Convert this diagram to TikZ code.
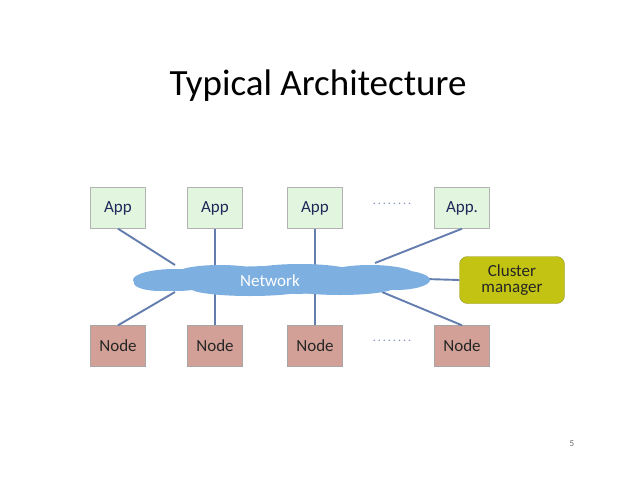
\documentclass[tikz,border=0pt]{standalone}
\usepackage{fontspec}
\setmainfont{Carlito}
\begin{document}
\begin{tikzpicture}[x=1pt,y=-1pt,
 app/.style={draw=black!30,fill={rgb,255:red,226;green,245;blue,222},minimum width=55pt,minimum height=41pt,inner sep=0pt,font=\fontsize{17}{19}\selectfont,text={rgb,255:red,30;green,40;blue,90}},
 nd/.style={draw=black!35,fill={rgb,255:red,210;green,160;blue,150},minimum width=55pt,minimum height=41pt,inner sep=0pt,font=\fontsize{17}{19}\selectfont,text=black!85},
 ln/.style={draw={rgb,255:red,100;green,125;blue,175},line width=1.9pt},
 dots/.style={font=\fontsize{12}{12}\selectfont,text={rgb,255:red,120;green,140;blue,180}},
 puff/.style={fill={rgb,255:red,125;green,175;blue,225}}]
\useasboundingbox (0,0) rectangle (638,493);
\fill[white] (0,0) rectangle (638,493);
\node[font=\fontsize{37}{40}\selectfont] (title) at (318,86) {Typical Architecture};
\node[app] (a1) at (118,208) {App};
\node[app] (a2) at (215,208) {App};
\node[app] (a3) at (315,208) {App};
\node[app] (a4) at (462,208) {App.};
\node[nd] (n1) at (118,346) {Node};
\node[nd] (n2) at (215,346) {Node};
\node[nd] (n3) at (315,346) {Node};
\node[nd] (n4) at (462,346) {Node};
\node[dots] (d1) at (392,204) {.\,.\,.\,.\,.\,.\,.\,.};
\node[dots] (d2) at (392,341) {.\,.\,.\,.\,.\,.\,.\,.};
\node[draw={rgb,255:red,150;green,150;blue,40},fill={rgb,255:red,195;green,195;blue,20},rounded corners=8pt,minimum width=105pt,minimum height=47pt,align=center,font=\fontsize{17}{19}\selectfont,text=black!85] (cm) at (512,280) {Cluster\\[-3pt]manager};
\coordinate (c1) at (175,265); \coordinate (c2) at (215,268); \coordinate (c3) at (315,265); \coordinate (c4) at (375,263);
\coordinate (b1) at (175,292); \coordinate (b2) at (215,293); \coordinate (b3) at (315,292); \coordinate (b4) at (382,292);
\coordinate (cr) at (425,279);
\draw[ln] (a1.south) -- (c1); \draw[ln] (a2.south) -- (c2); \draw[ln] (a3.south) -- (c3); \draw[ln] (a4.south) -- (c4);
\draw[ln] (n1.north) -- (b1); \draw[ln] (n2.north) -- (b2); \draw[ln] (n3.north) -- (b3); \draw[ln] (n4.north) -- (b4);
\draw[ln] (cm.west) -- (cr);
\fill[puff] (280,280) ellipse (120 and 14);
\fill[puff] (175,280) ellipse (42 and 11);
\fill[puff] (160,283) ellipse (26 and 8);
\fill[puff] (220,274) ellipse (45 and 9);
\fill[puff] (300,273) ellipse (55 and 9);
\fill[puff] (370,275) ellipse (45 and 10);
\fill[puff] (395,280) ellipse (35 and 10);
\fill[puff] (250,288) ellipse (60 and 8);
\fill[puff] (340,287) ellipse (55 and 8);
\fill[puff] (410,279) ellipse (18 and 6);
\node[text=white,font=\fontsize{17}{19}\selectfont] (nl) at (270,281) {Network};
\node[font=\fontsize{9}{10}\selectfont,text=black!60] (pg) at (572,444) {5};
\end{tikzpicture}
\end{document}
